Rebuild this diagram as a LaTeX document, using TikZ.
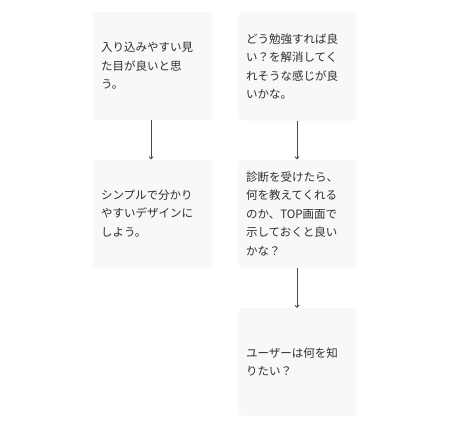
\documentclass[tikz,border=0pt]{standalone}
\usepackage{fontspec}
\setmainfont{Noto Sans CJK JP}
\usetikzlibrary{arrows.meta}
\definecolor{boxfill}{HTML}{F8F8F8}
\definecolor{txt}{HTML}{2E2E2E}
\definecolor{arr}{HTML}{4A4A4A}
\tikzset{
  card/.style={fill=boxfill, rounded corners=4pt, text width=103pt, inner xsep=8pt, inner ysep=0pt,
    minimum height=108pt, align=left, text=txt, font=\fontsize{11.5pt}{18.5pt}\selectfont},
  flow/.style={draw=arr, line width=0.8pt, -{Straight Barb[length=2pt,width=4pt]}}
}
\begin{document}
\begin{tikzpicture}[x=1pt,y=1pt]
\useasboundingbox (0,0) rectangle (470,-421);
\node[card, minimum width=119pt] (a) at (152.5,-66) {入り込みやすい見\\た目が良いと思\\う。};
\node[card, minimum width=118pt, text width=102pt] (b) at (297,-66.5) {どう勉強すれば良\\い？を解消してく\\れそうな感じが良\\いかな。};
\node[card, minimum width=119pt] (c) at (152.5,-213.5) {シンプルで分かり\\やすいデザインに\\しよう。};
\node[card, minimum width=118pt, text width=102pt] (d) at (297,-213.5) {診断を受けたら、\\何を教えてくれる\\のか、TOP画面で\\示しておくと良い\\かな？};
\node[card, minimum width=118pt, text width=102pt] (e) at (297,-362) {ユーザーは何を知\\りたい？};
\draw[flow] ([xshift=-1.5pt]a.south) -- ([xshift=-1.5pt]c.north);
\draw[flow] (b.south) -- (d.north);
\draw[flow] (d.south) -- (e.north);
\end{tikzpicture}
\end{document}
